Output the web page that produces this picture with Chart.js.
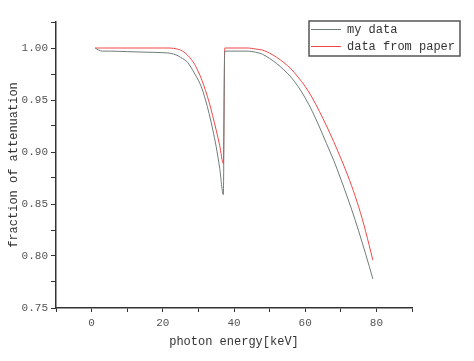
<!DOCTYPE html>
<html>
<head>
<meta charset="utf-8">
<script src="https://cdn.jsdelivr.net/npm/chart.js@4.4.1/dist/chart.umd.min.js"></script>
<style>
html,body{margin:0;padding:0;background:#fff;}
#wrap{width:474px;height:361px;position:relative;}
</style>
</head>
<body>
<div id="wrap"><canvas id="c" width="474" height="361"></canvas></div>
<script>
const energies = [1, 2, 3, 5, 10, 15, 20, 22, 24, 25, 26, 27, 28, 29, 30, 31, 32, 33, 34, 35, 36, 37, 37.4, 40, 44, 46, 48, 50, 52, 54, 56, 58, 60, 62, 64, 66, 68, 70, 72, 74, 76, 78, 79];
const myData = [1.000, 0.998, 0.997, 0.997, 0.9965, 0.996, 0.9955, 0.995, 0.993, 0.991, 0.989, 0.986, 0.981, 0.975, 0.969, 0.961, 0.950, 0.937, 0.922, 0.905, 0.884, 0.859, 0.997, 0.997, 0.997, 0.996, 0.994, 0.990, 0.985, 0.979, 0.972, 0.963, 0.952, 0.939, 0.924, 0.908, 0.892, 0.874, 0.855, 0.835, 0.813, 0.790, 0.778];
const paperData = [1.000, 1.000, 1.000, 1.000, 1.000, 1.000, 1.000, 1.000, 0.999, 0.998, 0.996, 0.993, 0.989, 0.984, 0.977, 0.969, 0.959, 0.948, 0.935, 0.921, 0.906, 0.889, 1.000, 1.000, 1.000, 0.999, 0.998, 0.995, 0.991, 0.986, 0.980, 0.972, 0.963, 0.952, 0.939, 0.925, 0.910, 0.894, 0.877, 0.858, 0.836, 0.810, 0.796];
const seriesLabels = ["my data", "data from paper"];
const xTickLabels = [0, 20, 40, 60, 80];
const yTickLabels = [0.75, 0.80, 0.85, 0.90, 0.95, 1.00];

const FONT = "'Liberation Mono', 'DejaVu Sans Mono', monospace";
const toPts = vals => energies.map((e, i) => ({x: e, y: vals[i]}));

const legendBox = {
  id: 'legendBox',
  afterDraw(chart) {
    const ctx = chart.ctx;
    ctx.save();
    ctx.strokeStyle = '#555';
    ctx.lineWidth = 1.5;
    ctx.strokeRect(309, 21, 151, 35);
    chart.data.datasets.forEach((ds, i) => {
      const y = 29 + i * 17;
      ctx.strokeStyle = ds.borderColor;
      ctx.lineWidth = 1;
      ctx.beginPath();
      ctx.moveTo(311, y + 0.5);
      ctx.lineTo(341, y + 0.5);
      ctx.stroke();
      ctx.fillStyle = '#333';
      ctx.font = '12px ' + FONT;
      ctx.textBaseline = 'middle';
      ctx.textAlign = 'left';
      ctx.fillText(ds.label, 347, y + 1);
    });
    ctx.restore();
  }
};

new Chart(document.getElementById('c'), {
  type: 'line',
  data: {
    datasets: [
      {label: seriesLabels[0], data: toPts(myData), borderColor: '#6e7c78', borderWidth: 1, pointRadius: 0, cubicInterpolationMode: 'monotone', fill: false},
      {label: seriesLabels[1], data: toPts(paperData), borderColor: '#f04848', borderWidth: 1, pointRadius: 0, cubicInterpolationMode: 'monotone', fill: false}
    ]
  },
  options: {
    responsive: false,
    animation: false,
    layout: {padding: {top: 22, right: 62, left: 3, bottom: 8}},
    plugins: {legend: {display: false}, tooltip: {enabled: false}},
    scales: {
      x: {
        type: 'linear', min: -10, max: 90,
        afterFit(s) { s.height = 45; },
        border: {color: '#333', width: 1.5},
        grid: {drawOnChartArea: false, drawTicks: true, tickLength: 4, color: '#333', lineWidth: 1},
        ticks: {
          stepSize: 10, autoSkip: false, maxRotation: 0, padding: 4,
          color: '#555', font: {family: FONT, size: 11},
          callback: v => xTickLabels.includes(v) ? String(v) : ''
        },
        title: {display: true, text: 'photon energy[keV]', color: '#333', font: {family: FONT, size: 12}, padding: {top: 2}}
      },
      y: {
        type: 'linear', min: 0.75, max: 1.025,
        afterFit(s) { s.width = 53; },
        border: {color: '#333', width: 1.5},
        grid: {drawOnChartArea: false, drawTicks: true, tickLength: 5, color: '#333', lineWidth: 1},
        ticks: {
          stepSize: 0.025, autoSkip: false, padding: 3,
          color: '#555', font: {family: FONT, size: 11},
          callback: v => {
            const r = Math.round(v * 1000) / 1000;
            return yTickLabels.some(t => Math.abs(t - r) < 1e-6) ? r.toFixed(2) : '';
          }
        },
        title: {display: true, text: 'fraction of attenuation', color: '#333', font: {family: FONT, size: 12}, padding: {bottom: 0}}
      }
    }
  },
  plugins: [legendBox]
});
</script>
</body>
</html>
